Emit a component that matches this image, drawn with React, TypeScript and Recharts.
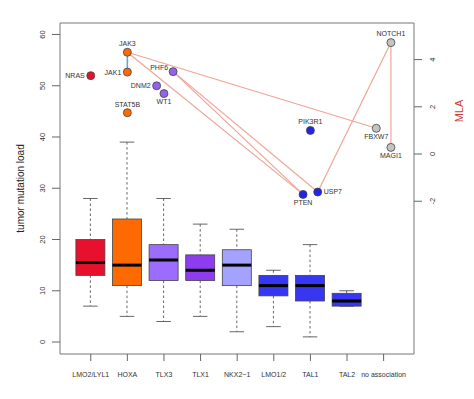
import React from 'react';
import {
  ComposedChart,
  Bar,
  Scatter,
  XAxis,
  YAxis,
  ReferenceArea,
  ReferenceLine,
} from 'recharts';

// subtype groups on the x axis
const groups = ['LMO2/LYL1', 'HOXA', 'TLX3', 'TLX1', 'NKX2\u22121', 'LMO1/2', 'TAL1', 'TAL2', 'no association'];

// boxplot stats (tumor mutation load), one entry per group with a box
const boxLow = [7, 5, 4, 5, 2, 3, 1, 7];
const boxQ1 = [13, 11, 12, 12, 11, 9, 8, 7];
const boxMedian = [15.5, 15, 16, 14, 15, 11, 11, 8];
const boxQ3 = [20, 24, 19, 17, 18, 13, 13, 9.5];
const boxHigh = [28, 39, 28, 23, 22, 14, 19, 10];

// genes plotted against MLA (right axis)
const geneNames = ['NRAS', 'JAK3', 'JAK1', 'STAT5B', 'DNM2', 'WT1', 'PHF6', 'PIK3R1', 'PTEN', 'USP7', 'FBXW7', 'MAGI1', 'NOTCH1'];
const geneX = [1, 2, 2, 2, 2.8, 3, 3.25, 7, 6.8, 7.2, 8.8, 9.2, 9.2];
const geneMLA = [3.32, 4.31, 3.47, 1.75, 2.89, 2.56, 3.49, 1.0, -1.71, -1.61, 1.09, 0.28, 4.72];
const geneClass = [0, 1, 1, 1, 2, 2, 2, 3, 3, 3, 4, 4, 4];

// gene-gene links
const links = [
  ['JAK3', 'JAK1'],
  ['JAK3', 'FBXW7'],
  ['JAK3', 'PTEN'],
  ['PHF6', 'PTEN'],
  ['PHF6', 'USP7'],
  ['NOTCH1', 'USP7'],
  ['NOTCH1', 'MAGI1'],
];

const leftTicks = [0, 10, 20, 30, 40, 50, 60];
const rightTicks = [-2, 0, 2, 4];
const xTicks = [1, 2, 3, 4, 5, 6, 7, 8, 9];

// styling
const BOX_W = 29;
const boxFill = ['#E8112D', '#FF6A00', '#9C6CFF', '#8E3DEE', '#A3A3FF', '#3737F2', '#3737F2', '#3737F2'];
const geneFill = ['#E8112D', '#FF6A00', '#9462EE', '#2424E6', '#C4C4C4'];
const labelPos: Record<string, [number, number, string]> = {
  NRAS: [-6, 0, 'end'],
  JAK3: [0, -9, 'middle'],
  JAK1: [-6, 0, 'end'],
  STAT5B: [0, -8, 'middle'],
  DNM2: [-6, 0, 'end'],
  WT1: [0, 8, 'middle'],
  PHF6: [-5, -4.5, 'end'],
  PIK3R1: [0, -9, 'middle'],
  PTEN: [0, 8, 'middle'],
  USP7: [6, -1, 'start'],
  FBXW7: [0, 8, 'middle'],
  MAGI1: [0, 8, 'middle'],
  NOTCH1: [0, -9, 'middle'],
};

const FONT = '"Liberation Sans", Arial, Helvetica, sans-serif';

const boxData = boxQ1.map((q1, i) => ({
  x: i + 1,
  low: boxLow[i],
  q1,
  median: boxMedian[i],
  q3: boxQ3[i],
  high: boxHigh[i],
  fill: boxFill[i],
}));

const geneData = geneNames.map((name, i) => ({
  x: geneX[i],
  y: geneMLA[i],
  name,
  fill: geneFill[geneClass[i]],
}));

const findGene = (name: string) => geneData.find((g) => g.name === name)!;

const BoxShape = (props: any) => {
  const { x, y, width, height, payload } = props;
  if (x == null || y == null) return null;
  const top = Math.min(y, y + height);
  const h = Math.abs(height);
  const k = h / (payload.q3 - payload.q1); // px per unit, from the bar's own scale
  const yOf = (v: number) => top + (payload.q3 - v) * k;
  const cx = x + width / 2;
  const left = cx - BOX_W / 2;
  const cap = BOX_W / 4;
  const wStroke = '#555';
  return (
    <g>
      <line x1={cx} x2={cx} y1={yOf(payload.high)} y2={top} stroke={wStroke} strokeDasharray="2.5 2.5" strokeWidth={0.9} />
      <line x1={cx} x2={cx} y1={top + h} y2={yOf(payload.low)} stroke={wStroke} strokeDasharray="2.5 2.5" strokeWidth={0.9} />
      <line x1={cx - cap} x2={cx + cap} y1={yOf(payload.high)} y2={yOf(payload.high)} stroke={wStroke} strokeWidth={0.9} />
      <line x1={cx - cap} x2={cx + cap} y1={yOf(payload.low)} y2={yOf(payload.low)} stroke={wStroke} strokeWidth={0.9} />
      <rect x={left} y={top} width={BOX_W} height={h} fill={payload.fill} stroke="#444" strokeWidth={0.8} />
      <line x1={left} x2={left + BOX_W} y1={yOf(payload.median)} y2={yOf(payload.median)} stroke="#000" strokeWidth={3} />
    </g>
  );
};

const GeneDot = (props: any) => {
  const { cx, cy, payload } = props;
  if (cx == null || cy == null) return null;
  const [dx, dy, anchor] = labelPos[payload.name] || [0, -9, 'middle'];
  return (
    <g>
      <circle cx={cx} cy={cy} r={4} fill={payload.fill} stroke="#444" strokeWidth={0.8} />
      <text
        x={cx + dx}
        y={cy + dy}
        textAnchor={anchor as any}
        dominantBaseline="central"
        fontSize={7}
        fontFamily={FONT}
        fill="#333"
      >
        {payload.name}
      </text>
    </g>
  );
};

const XTick = (props: any) => {
  const { x, y, payload } = props;
  return (
    <text x={x} y={y} textAnchor="middle" dominantBaseline="central" fontSize={7} fontFamily={FONT} fill="#333">
      {groups[payload.value - 1]}
    </text>
  );
};

const YTick = (props: any) => {
  const { x, y, payload } = props;
  return (
    <text
      x={x}
      y={y}
      transform={`rotate(-90, ${x}, ${y})`}
      textAnchor="middle"
      dominantBaseline="central"
      fontSize={7.5}
      fontFamily={FONT}
      fill="#333"
    >
      {payload.value}
    </text>
  );
};

const App: React.FC = () => {
  return (
    <div style={{ position: 'absolute', left: 0, top: 0, background: '#fff' }}>
      <ComposedChart
        width={474}
        height={399}
        data={boxData}
        margin={{ top: 23, right: 0, bottom: 0, left: 0 }}
      >
        <XAxis
          dataKey="x"
          type="number"
          domain={[0.16, 9.83]}
          ticks={xTicks}
          interval={0}
          allowDataOverflow
          height={45}
          axisLine={false}
          tickLine={{ stroke: '#666' }}
          tickSize={7}
          tickMargin={13}
          tick={<XTick />}
        />
        <YAxis
          yAxisId="L"
          orientation="left"
          domain={[-2.34, 62.24]}
          ticks={leftTicks}
          allowDataOverflow
          width={60}
          axisLine={false}
          tickLine={{ stroke: '#666' }}
          tickSize={8}
          tickMargin={9}
          tick={<YTick />}
          label={{
            content: ({ viewBox }: any) => (
              <text
                x={viewBox.x + 20}
                y={viewBox.y + viewBox.height / 2}
                transform={`rotate(-90, ${viewBox.x + 20}, ${viewBox.y + viewBox.height / 2})`}
                textAnchor="middle"
                dominantBaseline="central"
                fontSize={10}
                fontFamily={FONT}
                fill="#222"
              >
                tumor mutation load
              </text>
            ),
          }}
        />
        <YAxis
          yAxisId="R"
          orientation="right"
          domain={[-8.47, 5.55]}
          ticks={rightTicks}
          allowDataOverflow
          width={60}
          axisLine={false}
          tickLine={{ stroke: '#666' }}
          tickSize={8}
          tickMargin={11}
          tick={<YTick />}
          label={{
            content: ({ viewBox }: any) => (
              <text
                x={viewBox.x + 45}
                y={viewBox.y + 88}
                transform={`rotate(-90, ${viewBox.x + 45}, ${viewBox.y + 88})`}
                textAnchor="middle"
                dominantBaseline="central"
                fontSize={11}
                fontFamily={FONT}
                fill="#C8403A"
              >
                MLA
              </text>
            ),
          }}
        />
        <ReferenceArea
          yAxisId="L"
          x1={0.16}
          x2={9.83}
          y1={-2.34}
          y2={62.24}
          fill="none"
          stroke="#777"
          strokeWidth={1}
        />
        <Bar
          yAxisId="L"
          dataKey={(d: any) => [d.q1, d.q3]}
          barSize={BOX_W}
          shape={<BoxShape />}
          isAnimationActive={false}
        />
        {links.map(([a, b], i) => {
          const ga = findGene(a);
          const gb = findGene(b);
          return (
            <ReferenceLine
              key={`${a}-${b}`}
              yAxisId="R"
              segment={[
                { x: ga.x, y: ga.y },
                { x: gb.x, y: gb.y },
              ]}
              stroke={i === 0 ? '#6E9FD6' : '#EFA596'}
              strokeWidth={i === 0 ? 1.6 : 1.2}
            />
          );
        })}
        <Scatter
          yAxisId="R"
          data={geneData}
          dataKey="y"
          shape={<GeneDot />}
          isAnimationActive={false}
        />
      </ComposedChart>
    </div>
  );
};

export default App;
